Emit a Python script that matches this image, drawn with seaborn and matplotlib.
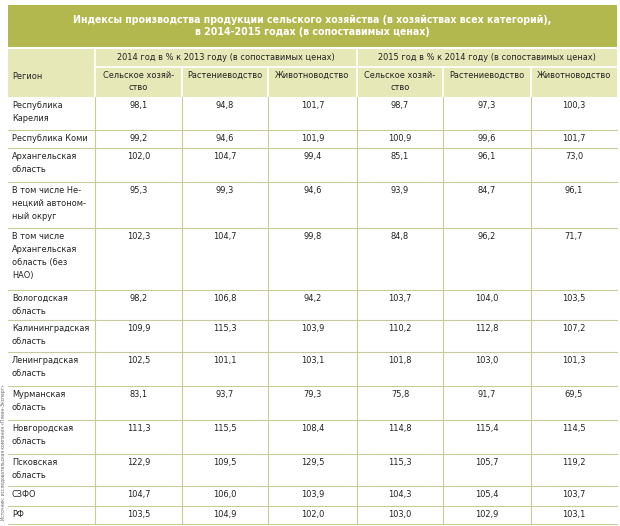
import matplotlib
matplotlib.use("Agg")
import matplotlib.pyplot as plt
import seaborn as sns

sns.set_theme(style="white")
plt.rcParams["font.family"] = ["DejaVu Sans"]
plt.rcParams["font.stretch"] = "condensed"

title = "Индексы производства продукции сельского хозяйства (в хозяйствах всех категорий),\nв 2014-2015 годах (в сопоставимых ценах)"
groups = ["2014 год в % к 2013 году (в сопоставимых ценах)", "2015 год в % к 2014 году (в сопоставимых ценах)"]
subcols = ["Сельское хозяй-\nство", "Растениеводство", "Животноводство"]
regions = ["Республика\nКарелия", "Республика Коми", "Архангельская\nобласть",
           "В том числе Не-\nнецкий автоном-\nный округ",
           "В том числе\nАрхангельская\nобласть (без\nНАО)",
           "Вологодская\nобласть", "Калининградская\nобласть", "Ленинградская\nобласть",
           "Мурманская\nобласть", "Новгородская\nобласть", "Псковская\nобласть", "СЗФО", "РФ"]
agr14 = [98.1, 99.2, 102.0, 95.3, 102.3, 98.2, 109.9, 102.5, 83.1, 111.3, 122.9, 104.7, 103.5]
crop14 = [94.8, 94.6, 104.7, 99.3, 104.7, 106.8, 115.3, 101.1, 93.7, 115.5, 109.5, 106.0, 104.9]
live14 = [101.7, 101.9, 99.4, 94.6, 99.8, 94.2, 103.9, 103.1, 79.3, 108.4, 129.5, 103.9, 102.0]
agr15 = [98.7, 100.9, 85.1, 93.9, 84.8, 103.7, 110.2, 101.8, 75.8, 114.8, 115.3, 104.3, 103.0]
crop15 = [97.3, 99.6, 96.1, 84.7, 96.2, 104.0, 112.8, 103.0, 91.7, 115.4, 105.7, 105.4, 102.9]
live15 = [100.3, 101.7, 73.0, 96.1, 71.7, 103.5, 107.2, 101.3, 69.5, 114.5, 119.2, 103.7, 103.1]
source = "Источник: исследовательская компания «Плеан-Эксперт»"

W, H = 620, 526
fig = plt.figure(figsize=(W/100, H/100), dpi=100)
ax = fig.add_axes([0, 0, 1, 1])
ax.set_xlim(0, W); ax.set_ylim(H, 0); ax.axis("off")

green = "#b3b84e"; light = "#e7e8b8"; line = "#c9ca9a"
xs = [8, 95, 182, 268, 357, 443, 531, 617]
ybounds = [97, 130, 148, 182, 228, 290, 320, 352, 386, 420, 454, 486, 506, 524]
fs = 6.6

ax.add_patch(plt.Rectangle((8, 5), 609, 42, color=green, lw=0))
ax.text(312, 26, title, ha="center", va="center", color="white", fontsize=7.6,
        fontweight="bold", linespacing=1.3)
ax.add_patch(plt.Rectangle((8, 47), 609, 50, color=light, lw=0))
ax.plot([8, 617], [48, 48], color="white", lw=1.5)
ax.plot([95, 617], [67, 67], color="white", lw=1.2)
for x in xs[1:-1]:
    y0 = 48 if x in (95, 357) else 67
    ax.plot([x, x], [y0, 97], color="white", lw=1.2)
ax.text(226, 58, groups[0], ha="center", va="center", fontsize=fs, color="#222")
ax.text(487, 58, groups[1], ha="center", va="center", fontsize=fs, color="#222")
ax.text(12, 72, "Регион", ha="left", va="top", fontsize=fs, color="#222")
for i in range(6):
    ax.text((xs[i+1]+xs[i+2])/2, 71, subcols[i % 3], ha="center", va="top",
            fontsize=fs, color="#222", linespacing=1.4)

cols = [agr14, crop14, live14, agr15, crop15, live15]
for r, reg in enumerate(regions):
    yt = ybounds[r]
    ax.plot([8, 617], [ybounds[r+1], ybounds[r+1]], color=line, lw=0.8)
    ax.text(12, yt + 4, reg, ha="left", va="top", fontsize=fs, color="#222", linespacing=1.55)
    for c in range(6):
        ax.text((xs[c+1]+xs[c+2])/2, yt + 4, f"{cols[c][r]:.1f}".replace(".", ","),
                ha="center", va="top", fontsize=fs, color="#222")
for x in xs[1:-1]:
    ax.plot([x, x], [97, 524], color=line, lw=0.8)

ax.text(4, 520, source, rotation=90, ha="center", va="bottom", fontsize=3.5, color="#666")
fig.savefig("out.png", dpi=100)
